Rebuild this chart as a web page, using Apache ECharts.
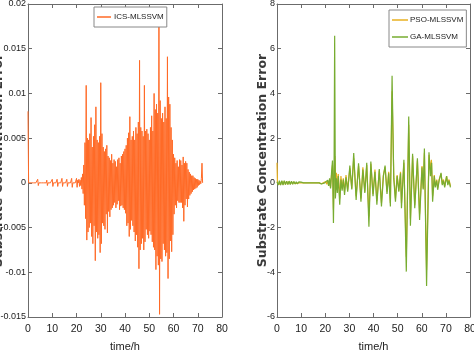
<!DOCTYPE html>
<html>
<head>
<meta charset="utf-8">
<script src="https://cdn.jsdelivr.net/npm/echarts@6/dist/echarts.min.js"></script>
<style>
html,body{margin:0;padding:0;background:#fff;}
#main{width:474px;height:353px;}
</style>
</head>
<body>
<div id="main"></div>
<script>
// left panel: ICS-MLSSVM, sampled every 0.25 h from 0 to 72 h
var ICS_STEP = 0.25;
var icsErr = [
	0.008, 0, 0, 0,  0, 0, 0, 0,  0, 0, 0, 0,  0, 0, 0, 0,
	0.0004, -0.0003, 0, 0,  0, 0, 0, 0,  0, 0, 0, 0,  0, 0, 0, 0.0003,
	-0.0003, 0, 0, 0,  0, 0, 0, 0,  0.0004, -0.0004, 0, 0,  0, 0, 0, 0,
	0.0004, -0.0004, 0, 0,  0, 0, 0, 0,  0.0005, -0.0004, 0, 0,  0, 0, 0, 0,
	0.0004, -0.0004, 0, 0,  0, 0, 0, 0,  0.0005, -0.0005, 0, 0,  0, 0, 0, 0,
	0.0005, -0.0005, 0.0003, 0,  0.0004, -0.0004, 0.0003, -0.0003,
	0.0006, -0.0007, 0.001, -0.0012,  0.002, -0.0025, 0.0045, -0.004,
	0.0109, -0.0064, 0.005, -0.0055,  0.0048, -0.005, 0.0055, -0.0045,
	0.0073, -0.006, 0.004, -0.0068,  0.0052, -0.0048, 0.0065, -0.0087,
	0.0085, -0.0055, 0.0048, -0.0062,  0.0045, -0.0058, 0.0052, -0.0078,
	0.0112, -0.0068, 0.0055, -0.0045,  0.004, -0.0048, 0.0035, -0.0052,
	0.0038, -0.0035, 0.0042, -0.0056,  0.003, -0.0032, 0.0028, -0.0038,
	0.0025, -0.003, 0.0032, -0.0028,  0.0022, -0.0025, 0.0026, -0.0022,
	0.0024, -0.0028, 0.0018, -0.0024,  0.0026, -0.002, 0.0028, -0.003,
	0.0022, -0.0026, 0.003, -0.0025,  0.0032, -0.0028, 0.0035, -0.003,
	0.0038, -0.0034, 0.0042, -0.0048,  0.005, -0.0045, 0.0056, -0.006,
	0.0074, -0.0052, 0.0048, -0.0042,  0.0052, -0.0048, 0.0058, -0.0055,
	0.0048, -0.0065, 0.0062, -0.0058,  0.0055, -0.0072, 0.0068, -0.0096,
	0.0137, -0.0075, 0.0062, -0.0068,  0.0058, -0.0062, 0.0052, -0.0075,
	0.0109, -0.0066, 0.0058, -0.0052,  0.006, -0.0058, 0.0055, -0.0062,
	0.0048, -0.0054, 0.0062, -0.0058,  0.0075, -0.0066, 0.0058, -0.0072,
	0.01, -0.0075, 0.0082, -0.0097,  0.0088, -0.0082, 0.0078, -0.0092,
	0.018, -0.0147, 0.0092, -0.0085,  0.0072, -0.0088, 0.0078, -0.0068,
	0.0068, -0.0075, 0.0085, -0.0082,  0.0072, -0.0078, 0.0141, -0.0107,
	0.0096, -0.0085, 0.0088, -0.0065,  0.0062, -0.0077, 0.0048, -0.0058,
	0.0032, -0.0035, 0.0028, -0.0025,  0.0022, -0.0028, 0.0025, -0.002,
	0.0018, -0.0022, 0.0026, -0.0022,  0.0025, -0.0022, 0.002, -0.0028,
	0.0029, -0.0043, 0.0022, -0.0025,  0.0024, -0.0018, 0.0022, -0.0027,
	0.0015, -0.0018, 0.0012, -0.0014,  0.001, -0.0012, 0.0008, -0.001,
	0.0008, -0.0008, 0.0006, -0.0007,  0.0005, -0.0006, 0.0004, -0.0005,
	0.0004, -0.0003, 0.0003, -0.0002,  0.0002, -0.0001, 0.0005, 0.0022,
	0
];

// right panel: turning points (time h, error)
var psoTime = [0,0.2,0.5,1,1.5,2,2.5,3,3.5,4,4.5,5,5.5,6,6.5,7,7.5,8,9,13.6,14,14.4,14.8,17.5,18,18.4,18.8,20.2,20.6,21,21.4,21.8,22.2,22.6,23,23.4,23.7,24,24.3,24.6,25,25.4,26,26.5,27,27.5,28,28.6,29.3,30.2,31,31.8,32.8,33.8,34.8,35.6,36.4,37.2,38.1,38.9,39.8,40.6,41.4,42.4,43.3,44.1,44.8,45.6,46.3,47,47.7,48.4,49.1,49.8,50.5,51.2,51.6,52.6,53.6,54.6,55.3,56.2,57.1,58.2,59.1,60.1,60.6,61.1,62,63,63.5,64,64.5,65.2,65.6,66.2,66.6,67.2,68,68.5,69,69.5,70.3,70.8,71.3,71.9];
var psoErr = [0.9,0,-0.08,0.08,-0.08,0.08,-0.08,0.08,-0.07,0.07,-0.06,0.06,-0.05,0.05,-0.05,0.05,-0.04,0.04,0,0,0.06,-0.04,0,0,0.05,-0.04,0,0.06,-0.06,0.1,-0.12,0.15,-0.2,0.35,0.8,-1.2,0.6,1.2,0.2,0.45,-0.3,0.4,-0.7,0.3,-0.25,0.2,-0.4,0.35,-0.3,0.65,-0.25,1.1,-0.6,0.75,-0.7,0.7,-0.4,0.8,-1.5,0.85,-0.5,0.6,-0.8,0.55,-0.9,0.35,0.7,-0.4,0.5,-0.9,4.1,0.3,-0.7,0.35,-0.35,0.5,-0.9,0.9,-3.3,2.6,-1.6,1.2,-1,1,-1.4,0.75,-0.25,1.35,-3.9,1.25,0.6,1.03,-0.6,0.35,-0.15,0.15,-0.25,0.15,0.4,-0.05,0.15,-0.15,0.3,-0.05,0.15,-0.15];
var gaTime = [0,0.5,1,1.5,2,2.5,3,3.5,4,4.5,5,5.5,6,6.5,7,7.5,8,8.5,9,9.5,10,11,13.6,14,14.4,14.8,17.5,18,18.4,18.8,19.8,20.2,20.6,21,21.4,21.8,22.2,22.6,23,23.4,23.65,23.9,24.2,24.6,25,25.4,26,26.5,27,27.5,28,28.6,29.3,30.2,31,31.8,32.8,33.8,34.8,35.6,36.4,37.2,38.1,38.9,39.8,40.6,41.4,42.4,43.3,44.1,44.8,45.6,46.3,47,47.7,48.4,49.1,49.8,50.5,51.2,51.6,52.6,53.6,54.6,55.3,56.2,57.1,58.2,59.1,60.1,60.6,61.1,62,63,63.6,64.1,64.5,65.2,65.6,66.2,66.6,67.2,68,68.5,69,69.5,70.3,70.8,71.3,71.9];
var gaErr = [0.05,-0.1,0.1,-0.1,0.1,-0.1,0.1,-0.08,0.08,-0.08,0.08,-0.07,0.07,-0.06,0.06,-0.05,0.05,-0.05,0.04,-0.03,0.03,0,0,0.07,-0.05,0,0,0.06,-0.05,0,0,0.08,-0.08,0.12,-0.14,0.2,-0.25,0.45,1,-1.8,0.4,6.58,-0.7,0.2,-0.45,0.3,-0.98,0.15,-0.35,0.15,-0.54,0.25,-0.4,0.77,-0.3,1.33,-0.76,0.88,-0.84,0.6,-0.45,0.9,-1.96,0.95,-0.6,0.5,-0.98,0.62,-1.06,0.3,0.77,-0.5,0.43,-1.06,4.79,0.2,-0.84,0.3,-0.4,0.43,-1.13,1.03,-3.97,2.97,-1.92,1.3,-1.13,1.1,-1.66,0.7,-0.3,1.54,-4.61,1.37,0.3,0.9,-0.84,0.3,-0.2,0.1,-0.31,0.1,0.45,-0.1,0.1,-0.2,0.3,-0.1,0.1,-0.2];

var xTicks = [0, 80, 10];       // min, max, interval
var icsTicks = [-0.015, 0.02, 0.005];
var rightTicks = [-6, 8, 2];

function pairs(xs, ys){
	var out = [];
	for(var i=0;i<ys.length;i++){ out.push([xs[i], ys[i]]); }
	return out;
}
var icsData = icsErr.map(function(v,i){ return [i*ICS_STEP, v]; });

var narrow = '"Liberation Sans Narrow","Liberation Sans",sans-serif';
var axisCol = '#6b6b6b';

function xAx(grid, pos, shown){
	return {
		type:'value', gridIndex:grid, position:pos,
		min:xTicks[0], max:xTicks[1], interval:xTicks[2],
		name: shown ? 'time/h' : '', nameLocation:'middle', nameGap:24, nameMoveOverlap:false,
		nameTextStyle:{fontFamily:narrow, fontSize:11, color:'#222'},
		axisLine:{show:true, onZero:false, lineStyle:{color:axisCol, width:1}},
		axisTick:{show:true, inside:true, length:4, lineStyle:{color:axisCol}},
		axisLabel:{show:shown, fontFamily:narrow, fontSize:10.5, color:'#222', margin:7},
		splitLine:{show:false}
	};
}
function yAx(grid, pos, ticks, shown, gap){
	return {
		type:'value', gridIndex:grid, position:pos,
		min:ticks[0], max:ticks[1], interval:ticks[2],
		name: shown ? 'Substrate Concentration Error' : '', nameLocation:'middle', nameGap:gap, nameRotate:90,
		nameMoveOverlap:false,
		nameTextStyle:{fontFamily:'"DejaVu Sans",sans-serif', fontSize:12.5, fontWeight:'bold', color:'#3a3a3a'},
		axisLine:{show:true, onZero:false, lineStyle:{color:axisCol, width:1}},
		axisTick:{show:true, inside:true, length:4, lineStyle:{color:axisCol}},
		axisLabel:{show:shown, fontFamily:narrow, fontSize:9, color:'#222', margin:2},
		splitLine:{show:false}
	};
}

var chart = echarts.init(document.getElementById('main'));
chart.setOption({
	animation:false,
	backgroundColor:'#fff',
	grid:[
		{left:28, top:4, width:194, height:313, outerBoundsMode:'none', containLabel:false},
		{left:277, top:4, width:193, height:313, outerBoundsMode:'none', containLabel:false}
	],
	xAxis:[xAx(0,'bottom',true), xAx(0,'top',false), xAx(1,'bottom',true), xAx(1,'top',false)],
	yAxis:[yAx(0,'left',icsTicks,true,23), yAx(0,'right',icsTicks,false,0),
		yAx(1,'left',rightTicks,true,8), yAx(1,'right',rightTicks,false,0)],
	legend:[
		{data:['ICS-MLSSVM'], left:94, top:7, orient:'vertical', icon:'rect', itemWidth:14, itemHeight:1.5,
			padding:[6,3,6,3], borderColor:'#888', borderWidth:1, backgroundColor:'#fff',
			textStyle:{fontFamily:narrow, fontSize:8, color:'#222', padding:[0,0,0,-2]}},
		{data:['PSO-MLSSVM','GA-MLSSVM'], left:389, top:10, orient:'vertical', icon:'rect', itemWidth:16, itemHeight:1.5,
			itemGap:9, padding:[6,3,6,3], borderColor:'#888', borderWidth:1, backgroundColor:'#fff',
			textStyle:{fontFamily:narrow, fontSize:8, color:'#222', padding:[0,0,0,-3]}}
	],
	series:[
		{name:'ICS-MLSSVM', type:'line', xAxisIndex:0, yAxisIndex:0, data:icsData,
			symbol:'none', lineStyle:{color:'#ff6a26', width:1}, itemStyle:{color:'#ff6a26'}},
		{name:'PSO-MLSSVM', type:'line', xAxisIndex:2, yAxisIndex:2, data:pairs(psoTime, psoErr),
			symbol:'none', lineStyle:{color:'#e8b020', width:1.2}, itemStyle:{color:'#e8b020'}},
		{name:'GA-MLSSVM', type:'line', xAxisIndex:2, yAxisIndex:2, data:pairs(gaTime, gaErr),
			symbol:'none', lineStyle:{color:'#77ac30', width:1.2}, itemStyle:{color:'#77ac30'}}
	]
});
</script>
</body>
</html>
